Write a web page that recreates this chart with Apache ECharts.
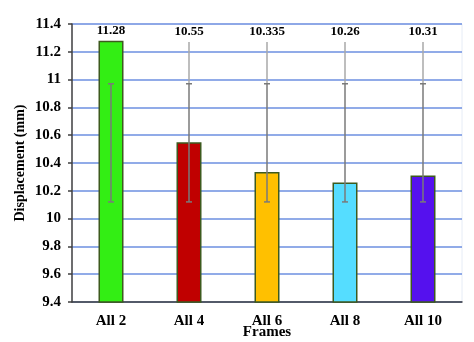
<!DOCTYPE html>
<html>
<head>
<meta charset="utf-8">
<script src="https://cdn.jsdelivr.net/npm/echarts@6/dist/echarts.min.js"></script>
<style>html,body{margin:0;padding:0;background:#fff;}#c{width:474px;height:342px;}</style>
</head>
<body>
<div id="c"></div>
<script>
var categories = ['All 2', 'All 4', 'All 6', 'All 8', 'All 10'];
var values = [11.28, 10.55, 10.335, 10.26, 10.31];
var valueLabels = ['11.28', '10.55', '10.335', '10.26', '10.31'];
var errLow = [10.12, 10.12, 10.12, 10.12, 10.12];
var errHigh = [10.97, 10.97, 10.97, 10.97, 10.97];
var leaderTop = [10.97, 11.27, 11.27, 11.27, 11.27];
var barColors = ['#33EE14', '#C00000', '#FFC000', '#55DDFF', '#5511EE'];

var FONT = '"Liberation Serif", "Times New Roman", serif';
var chart = echarts.init(document.getElementById('c'), null, {renderer: 'canvas'});

var errData = categories.map(function (c, i) { return [i, errLow[i], errHigh[i], leaderTop[i]]; });
var lblData = categories.map(function (c, i) { return [i, Math.max(values[i], leaderTop[i]), valueLabels[i]]; });

chart.setOption({
  animation: false,
  grid: {left: 72, right: 12, top: 24, bottom: 40, show: true, borderColor: '#e6ecf6', borderWidth: 1,
    containLabel: false, outerBoundsMode: 'none'},
  xAxis: {
    type: 'category', data: categories,
    axisLine: {lineStyle: {color: '#404040', width: 1.5}},
    axisTick: {show: false},
    axisLabel: {fontFamily: FONT, fontWeight: 'bold', fontSize: 15, color: '#000', margin: 12},
    name: 'Frames', nameLocation: 'middle', nameGap: 23, nameMoveOverlap: false,
    nameTextStyle: {fontFamily: FONT, fontWeight: 'bold', fontSize: 15, color: '#000'}
  },
  yAxis: {
    type: 'value', min: 9.4, max: 11.4, interval: 0.2,
    axisLine: {show: true, lineStyle: {color: '#404040', width: 1.5}},
    axisTick: {show: true, length: 4, lineStyle: {color: '#404040', width: 1.5}},
    axisLabel: {fontFamily: FONT, fontWeight: 'bold', fontSize: 15, color: '#000', margin: 11,
      formatter: function (v) { return String(Math.round(v * 10) / 10); }},
    splitLine: {lineStyle: {color: '#6c8fe0', width: 1.5}},
    name: 'Displacement (mm)', nameLocation: 'middle', nameGap: 45, nameRotate: 90, nameMoveOverlap: false,
    nameTextStyle: {fontFamily: FONT, fontWeight: 'bold', fontSize: 14, color: '#000'}
  },
  series: [
    {
      type: 'bar', data: values.map(function (v, i) {
        return {value: v, itemStyle: {color: barColors[i]}};
      }),
      barWidth: 25,
      itemStyle: {borderColor: '#3d5a1e', borderWidth: 1.5}
    },
    {
      type: 'custom', data: errData, z: 5,
      renderItem: function (params, api) {
        var x = api.value(0);
        var pLow = api.coord([x, api.value(1)]);
        var pHigh = api.coord([x, api.value(2)]);
        var pTop = api.coord([x, api.value(3)]);
        var cx = pLow[0];
        var ls = {stroke: '#7a7a7a', lineWidth: 1.5};
        var children = [];
        if (pTop[1] < pHigh[1] - 1) {
          children.push({type: 'line', shape: {x1: cx, y1: pTop[1], x2: cx, y2: pHigh[1]}, style: {stroke: '#a8a8a8', lineWidth: 1.5}});
        }
        children.push({type: 'line', shape: {x1: cx, y1: pHigh[1], x2: cx, y2: pLow[1]}, style: ls});
        children.push({type: 'line', shape: {x1: cx - 3, y1: pHigh[1], x2: cx + 3, y2: pHigh[1]}, style: ls});
        children.push({type: 'line', shape: {x1: cx - 3, y1: pLow[1], x2: cx + 3, y2: pLow[1]}, style: ls});
        return {type: 'group', children: children};
      }
    },
    {
      type: 'custom', data: lblData, z: 6,
      renderItem: function (params, api) {
        var i = params.dataIndex;
        var p = api.coord([api.value(0), api.value(1)]);
        return {type: 'text', style: {
          x: p[0], y: p[1] - 4, text: lblData[i][2], textAlign: 'center', textVerticalAlign: 'bottom',
          font: 'bold 13px ' + FONT, fill: '#000'
        }};
      }
    }
  ]
});
</script>
</body>
</html>
